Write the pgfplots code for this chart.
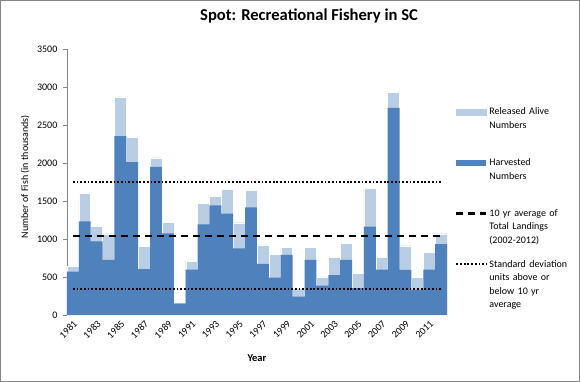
\documentclass[border=0pt]{standalone}
\usepackage{pgfplots}
\usepackage{pgfplotstable}
\pgfplotsset{compat=1.18}
\usepackage{fontspec}
\setmainfont{Carlito}

\definecolor{harv}{HTML}{4F81BD}
\definecolor{rel}{HTML}{B9CDE5}
\definecolor{framegray}{HTML}{868686}

% year, harvested, total (harvested + released alive), thousands of fish
\pgfplotstableread{
year harv total
1981 572 647
1982 1232 1597
1983 968 1166
1984 726 1069
1985 2354 2869
1986 2011 2336
1987 603 902
1988 1949 2068
1989 1074 1223
1990 150 165
1991 598 704
1992 1192 1465
1993 1443 1566
1994 1333 1654
1995 876 1214
1996 1417 1641
1997 673 924
1998 493 801
1999 792 889
2000 242 352
2001 726 889
2002 387 502
2003 524 757
2004 726 950
2005 352 546
2006 1162 1663
2007 598 757
2008 2724 2926
2009 594 911
2010 330 493
2011 598 823
2012 933 1069
}\spot

\begin{document}
\begin{tikzpicture}[x=1pt,y=1pt]
\draw[framegray, line width=0.8pt] (0.5,0.5) rectangle (579.5,381.5);
\begin{axis}[
    at={(67pt,67pt)}, anchor=south west,
    scale only axis, width=380pt, height=266pt,
    xmin=1980.5, xmax=2012.5, ymin=0, ymax=3500,
    ytick={0,500,...,3500},
    xtick={1981,1983,...,2011},
    minor xtick={1980.5,1981.5,...,2012.5},
    axis lines*=left,
    axis line style={framegray},
    tick align=outside,
    major tick length=4pt, minor tick length=4pt,
    ytick style={framegray},
    xtick style={draw=none},
    minor x tick style={framegray},
    /pgf/number format/1000 sep={},
    /pgf/number format/assume math mode=true,
    tick label style={font=\fontsize{10}{12}\selectfont},
    yticklabel style={xshift=-2pt},
    xticklabel style={rotate=45, anchor=north east, inner sep=0.5pt},
    ylabel={Number of Fish (in thousands)},
    ylabel style={font=\fontsize{10}{12}\selectfont, at={(axis description cs:-0.110,0.52)}, anchor=center},
    xlabel={Year},
    xlabel style={font=\bfseries\fontsize{10.5}{12}\selectfont, at={(axis description cs:0.5,0)}, anchor=center, yshift=-43pt},
    title={Spot: Recreational Fishery in SC},
    title style={font=\bfseries\fontsize{16.6}{19}\selectfont, at={(axis description cs:0.637,1)}, anchor=base, yshift=22pt},
    legend cell align=left,
    legend style={at={(axis description cs:1.021,0.79)}, anchor=north west,
        draw=none, fill=none, inner sep=0pt,
        font=\fontsize{10}{13.5}\selectfont, row sep=6.7pt,
        nodes={text width=88pt, align=left, anchor=base west, text height=8pt, text depth=32pt, inner sep=2pt}},
]
\addplot[ybar, bar width=1, bar shift=0pt, fill=rel, draw=white, line width=0.4pt,
    legend image code/.code={\fill[rel] (0pt,0pt) rectangle (30pt,6pt);}]
    table[x=year, y=total] {\spot};
\addlegendentry{Released Alive\\Numbers}
\addplot[ybar, bar width=1, bar shift=0pt, fill=harv, draw=none,
    legend image code/.code={\fill[harv] (0pt,0pt) rectangle (30pt,6pt);}]
    table[x=year, y=harv] {\spot};
\addlegendentry{Harvested\\Numbers}
\addplot[sharp plot, no marks, black, line width=2.2pt, dash pattern=on 7pt off 5pt,
    legend image code/.code={\draw (0pt,3pt) -- (30pt,3pt);}]
    coordinates {(1981,1043) (2012,1043)};
\addlegendentry{10 yr average of\\Total Landings\\(2002-2012)}
\addplot[sharp plot, no marks, black, line width=1.8pt, dash pattern=on 1.8pt off 1.9pt,
    legend image code/.code={\draw (0pt,3pt) -- (30pt,3pt);}]
    coordinates {(1981,1751) (2012,1751)};
\addlegendentry{Standard deviation\\units above or\\below 10 yr\\average}
\addplot[sharp plot, no marks, black, line width=1.8pt, dash pattern=on 1.8pt off 1.9pt, forget plot]
    coordinates {(1981,339) (2012,339)};
\end{axis}
\end{tikzpicture}
\end{document}
